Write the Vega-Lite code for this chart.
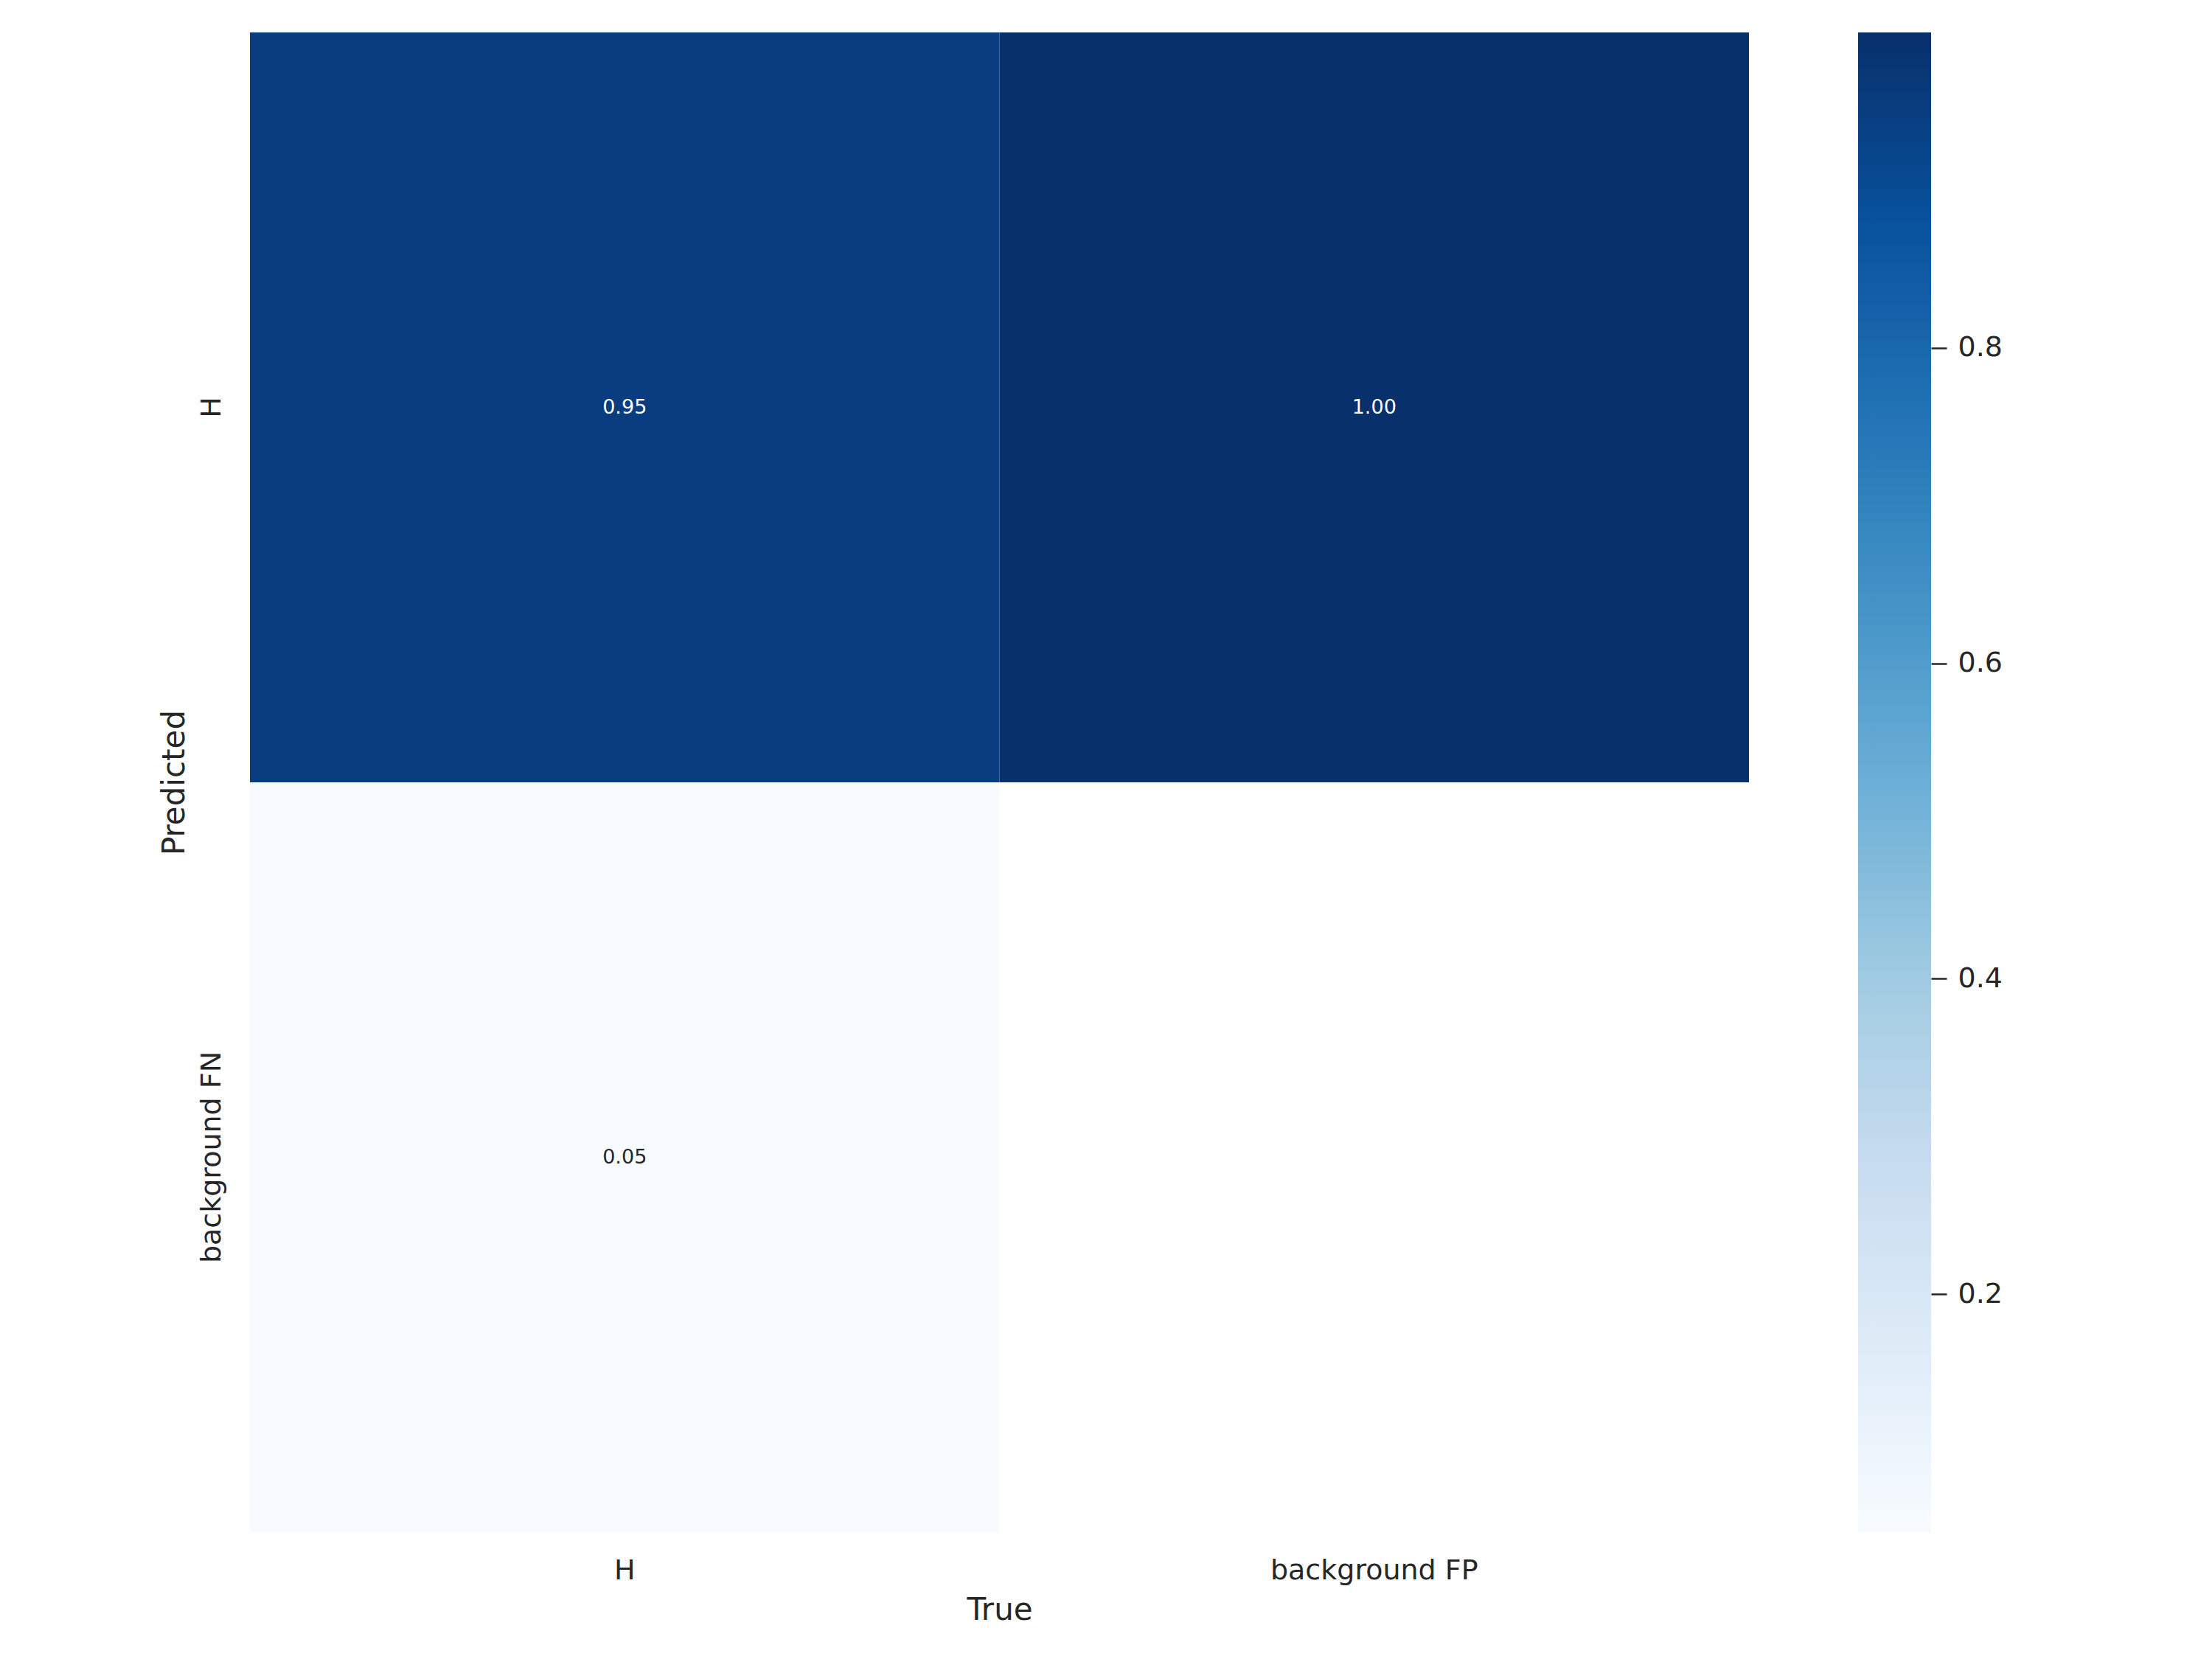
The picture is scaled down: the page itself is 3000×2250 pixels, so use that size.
{
  "$schema": "https://vega.github.io/schema/vega-lite/v6.json",
  "autosize": {"type": "none"},
  "padding": {"left": 339, "top": 44, "right": 381, "bottom": 172},
  "width": 2280,
  "height": 2034,
  "background": "white",
  "config": {
    "font": "DejaVu Sans",
    "view": {"stroke": null},
    "axis": {
      "labelColor": "#262626",
      "titleColor": "#262626",
      "titleFontWeight": "normal",
      "labelLimit": 0,
      "grid": false,
      "domain": false
    }
  },
  "data": {
    "values": [
      {"pred": "H", "true": "H", "value": 0.951},
      {"pred": "H", "true": "background FP", "value": 1.0},
      {"pred": "background FN", "true": "H", "value": 0.049}
    ]
  },
  "layer": [
    {
      "encoding": {
        "x": {
          "field": "true", "type": "nominal",
          "scale": {"domain": ["H", "background FP"], "range": [0, 2033], "paddingInner": 0, "paddingOuter": 0},
          "axis": {"title": "True", "labelAngle": 0, "labelFontSize": 38, "titleFontSize": 42, "ticks": false, "labelPadding": 33, "titlePadding": 14}
        },
        "y": {
          "field": "pred", "type": "nominal",
          "scale": {"domain": ["H", "background FN"], "paddingInner": 0, "paddingOuter": 0},
          "axis": {"title": "Predicted", "labelAngle": 270, "labelAlign": "center", "labelBaseline": "bottom", "labelFontSize": 38, "titleFontSize": 42, "ticks": false, "labelPadding": 33, "titlePadding": 10}
        }
      },
      "layer": [
        {
          "mark": {"type": "rect"},
          "encoding": {
            "color": {
              "field": "value", "type": "quantitative",
              "scale": {"domain": [0.049, 1.0], "range": ["#f7fbff", "#deebf7", "#c6dbef", "#9ecae1", "#6baed6", "#4292c6", "#2171b5", "#08519c", "#08306b"]},
              "legend": null
            }
          }
        },
        {
          "mark": {"type": "text", "font": "DejaVu Sans", "fontSize": 27, "align": "center", "baseline": "middle"},
          "encoding": {
            "text": {"field": "value", "type": "quantitative", "format": ".2f"},
            "color": {"condition": {"test": "datum.value > 0.5", "value": "white"}, "value": "#262626"}
          }
        }
      ]
    },
    {
      "data": {"values": [{"lo": 0.049, "hi": 1.0}]},
      "mark": {
        "type": "rect",
        "color": {
          "gradient": "linear", "x1": 0, "y1": 1, "x2": 0, "y2": 0,
          "stops": [
            {"offset": 0.0, "color": "#f7fbff"},
            {"offset": 0.125, "color": "#deebf7"},
            {"offset": 0.25, "color": "#c6dbef"},
            {"offset": 0.375, "color": "#9ecae1"},
            {"offset": 0.5, "color": "#6baed6"},
            {"offset": 0.625, "color": "#4292c6"},
            {"offset": 0.75, "color": "#2171b5"},
            {"offset": 0.875, "color": "#08519c"},
            {"offset": 1.0, "color": "#08306b"}
          ]
        }
      },
      "encoding": {
        "x": {"datum": 0, "type": "quantitative", "scale": {"domain": [0, 1], "range": [2181, 2280]}, "axis": null},
        "x2": {"datum": 1},
        "y": {
          "field": "lo", "type": "quantitative",
          "scale": {"domain": [0.049, 1.0], "zero": false, "nice": false},
          "axis": {"orient": "right", "title": null, "values": [0.2, 0.4, 0.6, 0.8], "format": ".1f", "labelFontSize": 38, "tickSize": 21, "tickWidth": 2.5, "tickColor": "#262626", "labelPadding": 15}
        },
        "y2": {"field": "hi"}
      }
    }
  ],
  "resolve": {"scale": {"x": "independent", "y": "independent", "color": "independent"}, "axis": {"x": "independent", "y": "independent"}}
}
